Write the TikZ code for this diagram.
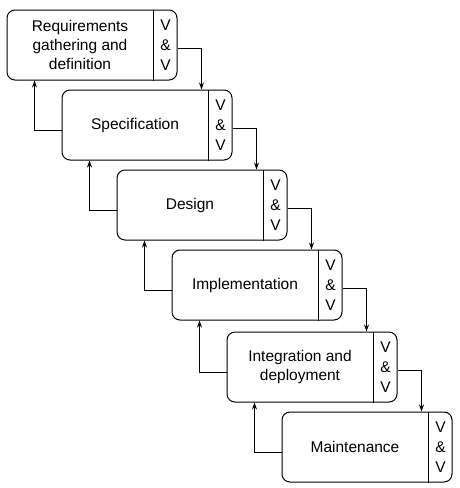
\documentclass[tikz,border=0pt]{standalone}
\usepackage{fontspec}
\setmainfont{Liberation Sans}
\usetikzlibrary{arrows.meta,calc}

\begin{document}
\begin{tikzpicture}[x=1pt,y=-1pt,
	phase/.style={draw,line width=1pt,rounded corners=8pt,minimum width=170pt,minimum height=70pt,inner sep=0pt},
	title/.style={align=center,inner sep=0pt,font=\fontsize{15.5}{19}\selectfont},
	vv/.style={align=center,inner sep=0pt,font=\fontsize{15.5}{20}\selectfont},
	flow/.style={line width=0.8pt,-{Stealth[length=7pt,width=5pt]}}]
		\useasboundingbox (0,0) rectangle (460,488);
		% phases
		\node[phase] (req) at (92,45) {};
		\node[title] (reqT) at ([xshift=-12pt]req.center) {Requirements\\gathering and\\definition};
		\node[vv] (reqV) at ([xshift=-12pt]req.east) {V\\\&\\V};
		\draw[line width=1pt] ([xshift=-24pt]req.north east) -- ([xshift=-24pt]req.south east);
		\node[phase] (spec) at (147,125) {};
		\node[title] (specT) at ([xshift=-12pt]spec.center) {Specification};
		\node[vv] (specV) at ([xshift=-12pt]spec.east) {V\\\&\\V};
		\draw[line width=1pt] ([xshift=-24pt]spec.north east) -- ([xshift=-24pt]spec.south east);
		\node[phase] (des) at (202,205) {};
		\node[title] (desT) at ([xshift=-12pt]des.center) {Design};
		\node[vv] (desV) at ([xshift=-12pt]des.east) {V\\\&\\V};
		\draw[line width=1pt] ([xshift=-24pt]des.north east) -- ([xshift=-24pt]des.south east);
		\node[phase] (impl) at (257,285) {};
		\node[title] (implT) at ([xshift=-12pt]impl.center) {Implementation};
		\node[vv] (implV) at ([xshift=-12pt]impl.east) {V\\\&\\V};
		\draw[line width=1pt] ([xshift=-24pt]impl.north east) -- ([xshift=-24pt]impl.south east);
		\node[phase] (integ) at (312,367) {};
		\node[title] (integT) at ([xshift=-12pt]integ.center) {Integration and\\deployment};
		\node[vv] (integV) at ([xshift=-12pt]integ.east) {V\\\&\\V};
		\draw[line width=1pt] ([xshift=-24pt]integ.north east) -- ([xshift=-24pt]integ.south east);
		\node[phase] (maint) at (367,447) {};
		\node[title] (maintT) at ([xshift=-12pt]maint.center) {Maintenance};
		\node[vv] (maintV) at ([xshift=-12pt]maint.east) {V\\\&\\V};
		\draw[line width=1pt] ([xshift=-24pt]maint.north east) -- ([xshift=-24pt]maint.south east);
		% forward flow
		\draw[flow] ([yshift=-3pt]req.east) -| ([xshift=-31pt]spec.north east);
		\draw[flow] ([yshift=-3pt]spec.east) -| ([xshift=-31pt]des.north east);
		\draw[flow] ([yshift=-3pt]des.east) -| ([xshift=-31pt]impl.north east);
		\draw[flow] ([yshift=-3pt]impl.east) -| ([xshift=-31pt]integ.north east);
		\draw[flow] ([yshift=-3pt]integ.east) -| ([xshift=-31pt]maint.north east);
		% feedback
		\draw[flow] ([yshift=-5pt]spec.west) -| ([xshift=28pt]req.south west);
		\draw[flow] ([yshift=-5pt]des.west) -| ([xshift=28pt]spec.south west);
		\draw[flow] ([yshift=-5pt]impl.west) -| ([xshift=28pt]des.south west);
		\draw[flow] ([yshift=-5pt]integ.west) -| ([xshift=28pt]impl.south west);
		\draw[flow] ([yshift=-5pt]maint.west) -| ([xshift=28pt]integ.south west);
\end{tikzpicture}
\end{document}
